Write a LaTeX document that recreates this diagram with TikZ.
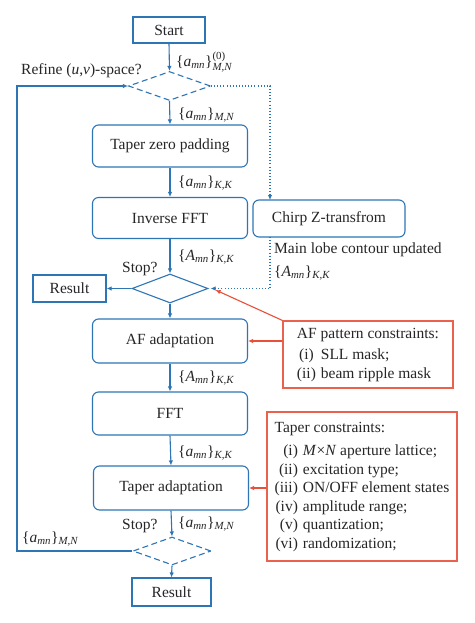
\documentclass[tikz,border=0pt]{standalone}
\usepackage{amsmath}
\usepackage{fontspec}
\setmainfont{Liberation Serif}
\usetikzlibrary{shapes.geometric,arrows.meta}
\definecolor{fblue}{RGB}{46,117,182}
\definecolor{fred}{RGB}{232,80,58}
\newcommand{\sq}[3]{\text{\{}\textit{#1}_{\textit{#2}}\text{\}}_{\textit{#3}}}
\newcommand{\sqz}[3]{\text{\{}\textit{#1}_{\textit{#2}}\text{\}}^{\text{(0)}}_{\textit{#3}}}
\tikzset{
  every node/.style={font=\fontsize{15.5}{18.5}\selectfont, text=black!85},
  box/.style={draw=fblue, line width=1.1pt, rounded corners=6pt, minimum width=155pt, inner sep=0pt},
  sbox/.style={draw=fblue, line width=1.1pt, inner sep=0pt},
  dia/.style={diamond, draw=fblue, line width=1.1pt, inner sep=0pt},
  dashdia/.style={dia, dash pattern=on 6pt off 3.5pt},
  rbox/.style={draw=fred!90, line width=1.1pt, inner sep=0pt},
  lbl/.style={anchor=west, inner sep=0pt},
  arr/.style={draw=fblue, line width=1.1pt, -{Latex[length=5pt,width=4.5pt]}},
  dotarr/.style={draw=fblue, line width=1.1pt, dash pattern=on 0.9pt off 2.2pt, -{Latex[length=5pt,width=4.5pt]}},
  redarr/.style={draw=fred, line width=1.1pt, -{Latex[length=5pt,width=4.5pt]}}
}
\begin{document}
\begin{tikzpicture}[x=1pt,y=-1pt]
\useasboundingbox[fill=white] (0,0) rectangle (474,623);
% nodes
\node[sbox, minimum width=72pt, minimum height=26pt] (start) at (169,30) {Start};
\node[dashdia, minimum width=82pt, minimum height=29pt] (d1) at (169.5,86) {};
\node[box, minimum height=42pt] (tzp) at (170,146) {Taper zero padding};
\node[box, minimum height=41pt] (ifft) at (170,218) {Inverse FFT};
\node[box, minimum width=152pt, minimum height=37pt] (czt) at (329,218.5) {Chirp Z-transfrom};
\node[dia, minimum width=76pt, minimum height=29pt] (d2) at (170,288.5) {};
\node[sbox, minimum width=73pt, minimum height=27pt] (res1) at (69.5,288.5) {Result};
\node[box, minimum height=44pt] (afa) at (170,341) {AF adaptation};
\node[rbox, minimum width=170pt, minimum height=67pt] (afc) at (368,354.5) {%
  \begin{tabular}{@{}c@{\hspace{5pt}}l@{}}
  \multicolumn{2}{@{}l@{}}{AF pattern constraints:}\\[3pt]
  (i) & SLL mask;\\
  (ii) & beam ripple mask
  \end{tabular}};
\node[box, minimum height=43pt] (fft) at (170,413.5) {FFT};
\node[box, minimum height=44pt] (taa) at (171,488) {Taper adaptation};
\node[rbox, minimum width=190pt, minimum height=149pt] (tc) at (362,486.5) {%
  \begin{tabular}{@{}r@{\hspace{5pt}}l@{}}
  \multicolumn{2}{@{}l@{}}{Taper constraints:}\\[5pt]
  (i) & \textit{M}×\textit{N} aperture lattice;\\
  (ii) & excitation type;\\
  (iii) & ON/OFF element states\\
  (iv) & amplitude range;\\
  (v) & quantization;\\
  (vi) & randomization;
  \end{tabular}};
\node[dashdia, minimum width=78pt, minimum height=28pt] (d3) at (172,551) {};
\node[sbox, minimum width=79pt, minimum height=28pt] (res2) at (171.5,592) {Result};
% labels
\node[lbl] (l1) at (176,62) {$\sqz{a}{mn}{M,N}$};
\node[lbl] (l2) at (21,71) {Refine (\textit{u},\textit{v})-space?};
\node[lbl] (l3) at (178,115) {$\sq{a}{mn}{M,N}$};
\node[lbl] (l4) at (178,183) {$\sq{a}{mn}{K,K}$};
\node[lbl] (l5) at (178,257) {$\sq{A}{mn}{K,K}$};
\node[lbl] (l6) at (122,269) {Stop?};
\node[lbl] (l7) at (274,250) {Main lobe contour updated};
\node[lbl] (l8) at (274,273) {$\sq{A}{mn}{K,K}$};
\node[lbl] (l9) at (178,378) {$\sq{A}{mn}{K,K}$};
\node[lbl] (l10) at (178,453) {$\sq{a}{mn}{K,K}$};
\node[lbl] (l11) at (122,526) {Stop?};
\node[lbl] (l12) at (178,524) {$\sq{a}{mn}{M,N}$};
\node[lbl] (l13) at (22,539) {$\sq{a}{mn}{M,N}$};
% coordinates
\coordinate (lb) at (17,551);
\coordinate (cztin) at (270,200);
\coordinate (cztout) at (270,237);
% connectors
\draw[arr] (start.south) -- (d1.north);
\draw[arr] (d1.south) -- (tzp.north);
\draw[arr] (tzp.south) -- (ifft.north);
\draw[arr] (ifft.south) -- (d2.north);
\draw[arr] (d2.west) -- (res1.east);
\draw[arr] (d2.south) -- (afa.north);
\draw[arr] (afa.south) -- (fft.north);
\draw[arr] (fft.south) -- (taa.north);
\draw[arr] (taa.south) -- (d3.north);
\draw[arr] (d3.south) -- (res2.north);
\draw[arr] (d3.west) -- (lb) |- (d1.west);
\draw[dotarr] (d1.east) -| (cztin);
\draw[dotarr] (cztout) |- ([xshift=2pt]d2.east);
\draw[redarr] (afc.north west) -- ([shift={(7,1.5)}]d2.east);
\draw[redarr] (afc.west |- afa.east) -- (afa.east);
\draw[redarr] (tc.west |- taa.east) -- (taa.east);
\end{tikzpicture}
\end{document}
